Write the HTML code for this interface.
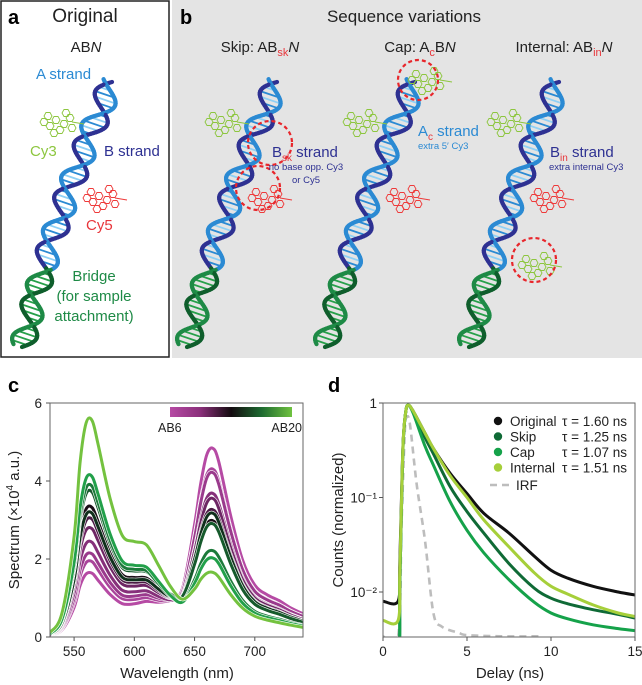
<!DOCTYPE html>
<html><head><meta charset="utf-8"><style>
html,body{margin:0;padding:0;background:#fff;}
svg{display:block;font-family:"Liberation Sans",sans-serif;}
</style></head><body>
<svg id="fig" width="642" height="685" viewBox="0 0 642 685" xmlns="http://www.w3.org/2000/svg">
<defs>
<linearGradient id="cbar" x1="0" x2="1" y1="0" y2="0">
<stop offset="0" stop-color="#b64aa4"/><stop offset="0.25" stop-color="#8a2f7a"/><stop offset="0.5" stop-color="#140b10"/><stop offset="0.75" stop-color="#1d6a30"/><stop offset="1" stop-color="#6fc23f"/>
</linearGradient>
<clipPath id="clipc"><rect x="50" y="403" width="253" height="234"/></clipPath>
<clipPath id="clipd"><rect x="383" y="403" width="252" height="234"/></clipPath>
</defs>
<g id="top">
<rect x="172" y="0" width="470" height="358" fill="#e4e4e4"/>
<rect x="1" y="1" width="168" height="356" fill="#fff" stroke="#222" stroke-width="1.5"/>
<text x="8" y="24" font-size="20" font-weight="bold">a</text>
<text x="85" y="22" font-size="19" text-anchor="middle" fill="#222">Original</text>
<text x="86" y="52" font-size="15" text-anchor="middle" fill="#222">AB<tspan font-style="italic">N</tspan></text>
<text x="180" y="24" font-size="20" font-weight="bold">b</text>
<text x="404" y="22" font-size="17" text-anchor="middle" fill="#222">Sequence variations</text>
<text x="260" y="52" font-size="15" text-anchor="middle" fill="#222">Skip: AB<tspan fill="#e8363b" font-size="11" dy="4">sk</tspan><tspan font-style="italic" dy="-4">N</tspan></text>
<text x="420" y="52" font-size="15" text-anchor="middle" fill="#222">Cap: A<tspan fill="#e8363b" font-size="11" dy="4">c</tspan><tspan dy="-4">B</tspan><tspan font-style="italic">N</tspan></text>
<text x="564" y="52" font-size="15" text-anchor="middle" fill="#222">Internal: AB<tspan fill="#e8363b" font-size="11" dy="4">in</tspan><tspan font-style="italic" dy="-4">N</tspan></text>
<g id="helices"></g>
<text x="36" y="79" font-size="15" fill="#2b8ad3">A strand</text>
<text x="30" y="156" font-size="15" fill="#8dc63f">Cy3</text>
<text x="104" y="156" font-size="15" fill="#2e3192">B strand</text>
<text x="86" y="230" font-size="15" fill="#e8363b">Cy5</text>
<text fill="#1e8a46" font-size="15" text-anchor="middle"><tspan x="94" y="281">Bridge</tspan><tspan x="94" y="301">(for sample</tspan><tspan x="94" y="321">attachment)</tspan></text>
<text x="272" y="157" font-size="15" fill="#2e3192">B<tspan fill="#e8363b" font-size="10" dy="4">sk</tspan><tspan dy="-4"> strand</tspan></text>
<text fill="#2e3192" font-size="9.5" text-anchor="middle"><tspan x="306" y="170">no base opp. Cy3</tspan><tspan x="306" y="183">or Cy5</tspan></text>
<text x="418" y="136" font-size="15" fill="#2b8ad3">A<tspan fill="#e8363b" font-size="10" dy="4">c</tspan><tspan dy="-4"> strand</tspan></text>
<text x="418" y="149" font-size="9.5" fill="#2b8ad3">extra 5′ Cy3</text>
<text x="550" y="157" font-size="15" fill="#2e3192">B<tspan fill="#e8363b" font-size="10" dy="4">in</tspan><tspan dy="-4"> strand</tspan></text>
<text x="549" y="170" font-size="9.5" fill="#2e3192">extra internal Cy3</text>
</g>

<g id="panelc">
<text x="8" y="392" font-size="20" font-weight="bold">c</text>
<g id="ccurves" clip-path="url(#clipc)"></g>
<rect x="50" y="403" width="253" height="234" fill="none" stroke="#666" stroke-width="1"/>
<g id="caxes"></g>
<rect x="170" y="407" width="122" height="10" fill="url(#cbar)"/>
<text x="158" y="432" font-size="12.5" fill="#222">AB6</text>
<text x="302" y="432" font-size="12.5" fill="#222" text-anchor="end">AB20</text>
<text transform="translate(19,520) rotate(-90)" font-size="15" text-anchor="middle" fill="#222">Spectrum (×10<tspan font-size="10" dy="-6">4</tspan><tspan dy="6"> a.u.)</tspan></text>
<text x="177" y="678" font-size="15" text-anchor="middle" fill="#222">Wavelength (nm)</text>
</g>

<g id="paneld">
<text x="328" y="392" font-size="20" font-weight="bold">d</text>
<g id="dcurves" clip-path="url(#clipd)"></g>
<rect x="383" y="403" width="252" height="234" fill="none" stroke="#666" stroke-width="1"/>
<g id="daxes"></g>
<g id="dlegend"></g>
<text transform="translate(343,520) rotate(-90)" font-size="15" text-anchor="middle" fill="#222">Counts (normalized)</text>
<text x="510" y="678" font-size="15" text-anchor="middle" fill="#222">Delay (ns)</text>
</g>
</svg>
<script>
// ---------- panel c data ----------
const wavelengths=[530,540,550,555,560,565,570,580,590,600,610,620,630,640,650,655,660,665,670,680,690,700,710,720,730,740];
const cy3Basis=[0.02,0.11,0.46,0.8,0.98,0.99,0.88,0.63,0.46,0.43,0.41,0.31,0.2,0.12,0.08,0.07,0.06,0.055,0.05,0.04,0.035,0.03,0.025,0.02,0.018,0.015];
const cy5Basis=[0,0,0,0,0,0,0,0.01,0.02,0.03,0.05,0.08,0.13,0.22,0.58,0.8,0.96,1.0,0.93,0.64,0.4,0.27,0.22,0.19,0.15,0.12];
const cy3Peaks=[1.65,1.95,2.15,2.45,2.8,3.05,3.35,3.2,3.75,3.9,4.15,5.6];
const cy5Peaks=[4.75,4.2,4.1,3.55,3.4,3.1,2.8,3.0,2.7,2.0,1.8,1.35];
const sampleColors=["#b64aa4","#a9449a","#9a3a8c","#86307a","#6e2664","#4a1a44","#1a0d16","#10301c","#165a2c","#1c7a3a","#22a04a","#74c23f"];
const xTicksC=[550,600,650,700];
const yTicksC=[0,2,4,6];
// ---------- panel d data ----------
const seriesNames=["Original","Skip","Cap","Internal"];
const lifetimes=["1.60","1.25","1.07","1.51"];
const decayColors=["#111111","#0f6a36","#15a24a","#a6cf3a"];
const decayTimes=[0,0.9,1.0,1.1,1.2,1.35,1.5,1.8,2.5,3,4,5,6,7.5,9,10,11,12.5,14,15];
const originalCounts=[0.008,0.008,0.02,0.1,0.4,0.8,0.95,0.82,0.48,0.33,0.18,0.11,0.068,0.042,0.024,0.017,0.014,0.0115,0.01,0.0093];
const skipCounts=[0.002,0.002,0.012,0.08,0.38,0.8,0.95,0.8,0.43,0.29,0.13,0.071,0.042,0.02,0.011,0.0086,0.0075,0.0065,0.0058,0.0053];
const capCounts=[0.002,0.002,0.012,0.08,0.38,0.8,0.95,0.78,0.35,0.22,0.09,0.045,0.026,0.0135,0.0078,0.006,0.0052,0.0045,0.0041,0.0039];
const internalCounts=[0.005,0.005,0.016,0.09,0.4,0.8,0.95,0.82,0.48,0.33,0.17,0.1,0.058,0.03,0.016,0.0115,0.0095,0.0073,0.006,0.0055];
const irfTimes=[0,0.9,1.1,1.3,1.4,1.6,2,2.5,3,3.5,4.5,5,7,9.5];
const irfCounts=[0.0034,0.0034,0.05,0.5,0.7,0.6,0.14,0.035,0.006,0.0043,0.0037,0.0035,0.0034,0.0034];
const xTicksD=[0,5,10,15];
const yTicksD=[1,0.1,0.01];
const yTickLabelsD=["1","10⁻¹","10⁻²"];

const NS="http://www.w3.org/2000/svg";
function mk(tag,attrs,parent){const e=document.createElementNS(NS,tag);for(const k in attrs)e.setAttribute(k,attrs[k]);parent.appendChild(e);return e;}
function smooth(P){
  let d="M"+P[0][0].toFixed(1)+","+P[0][1].toFixed(1);
  for(let i=0;i<P.length-1;i++){
    const p0=P[Math.max(0,i-1)],p1=P[i],p2=P[i+1],p3=P[Math.min(P.length-1,i+2)];
    const c1=[p1[0]+(p2[0]-p0[0])/6,p1[1]+(p2[1]-p0[1])/6],c2=[p2[0]-(p3[0]-p1[0])/6,p2[1]-(p3[1]-p1[1])/6];
    d+=" C"+c1[0].toFixed(1)+","+c1[1].toFixed(1)+" "+c2[0].toFixed(1)+","+c2[1].toFixed(1)+" "+p2[0].toFixed(1)+","+p2[1].toFixed(1);
  }
  return d;
}

const xC=w=>50+(w-530)*(253/210);
const yC=v=>637-v*(234/6);
const xD=t=>383+t*(252/15);
const yD=v=>403-Math.log10(v)*94.5;

// ---------- panel c ----------
const cg=document.getElementById('ccurves');
cy3Peaks.forEach((a,i)=>{
  const b=cy5Peaks[i];
  const d=smooth(wavelengths.map((w,j)=>[xC(w),yC(a*cy3Basis[j]+b*cy5Basis[j])]));
  const u=mk('path',{d:d,fill:'none',stroke:'#fff','stroke-width':4.2,'stroke-linejoin':'round'},cg);
  
  
  const p=mk('path',{d:d,fill:'none',stroke:sampleColors[i],'stroke-width':3,'stroke-linejoin':'round'},cg);
  
  
});
const ca=document.getElementById('caxes');
xTicksC.forEach(w=>{
  const l=mk('line',{x1:xC(w),x2:xC(w),y1:637,y2:641,stroke:'#555'},ca);
  
  
  const t=mk('text',{x:xC(w),y:656,'font-size':13.5,'text-anchor':'middle',fill:'#222'},ca);
  t.textContent=w;
  
  
});
yTicksC.forEach(v=>{
  const l=mk('line',{x1:46,x2:50,y1:yC(v),y2:yC(v),stroke:'#555'},ca);
  
  
  const t=mk('text',{x:42,y:yC(v)+5,'font-size':13.5,'text-anchor':'end',fill:'#222'},ca);
  t.textContent=v;
  
  
});

// ---------- panel d ----------
const dg=document.getElementById('dcurves');
const irf=mk('path',{d:smooth(irfTimes.map((t,i)=>[xD(t),yD(irfCounts[i])])),fill:'none',stroke:'#bdbdbd','stroke-width':2.6,'stroke-dasharray':'7,5'},dg);


[originalCounts,skipCounts,capCounts,internalCounts].forEach((arr,k)=>{
  const d=smooth(decayTimes.map((t,i)=>[xD(t),yD(arr[i])]));
  const p=mk('path',{d:d,fill:'none',stroke:decayColors[k],'stroke-width':3,'stroke-linejoin':'round'},dg);
  
  
});
const da=document.getElementById('daxes');
xTicksD.forEach(t=>{
  const l=mk('line',{x1:xD(t),x2:xD(t),y1:637,y2:641,stroke:'#555'},da);
  
  
  const tx=mk('text',{x:xD(t),y:656,'font-size':13.5,'text-anchor':'middle',fill:'#222'},da);
  tx.textContent=t;
  
  
});
yTicksD.forEach((v,i)=>{
  const l=mk('line',{x1:379,x2:383,y1:yD(v),y2:yD(v),stroke:'#555'},da);
  
  
  const tx=mk('text',{x:377,y:yD(v)+5,'font-size':13.5,'text-anchor':'end',fill:'#222'},da);
  tx.textContent=yTickLabelsD[i];
  
  
});
const dl=document.getElementById('dlegend');
seriesNames.forEach((n,k)=>{
  const y=421+k*15.5;
  const c=mk('circle',{cx:498,cy:y,r:4.2,fill:decayColors[k]},dl);
  
  
  const t=mk('text',{x:510,y:y+5,'font-size':13.5,fill:'#222'},dl);
  t.textContent=n;
  
  
  const t2=mk('text',{x:562,y:y+5,'font-size':13.5,fill:'#222'},dl);
  t2.textContent="τ = "+lifetimes[k]+" ns";
  
  
});
const ld=mk('line',{x1:490,x2:510,y1:485,y2:485,stroke:'#bdbdbd','stroke-width':2.5,'stroke-dasharray':'7,5'},dl);


const lt=mk('text',{x:516,y:490,'font-size':13.5,fill:'#222'},dl);
lt.textContent="IRF";



// ---------- helices ----------
const hg=document.getElementById('helices');
const helixOffsets=[0,165,303,447];
function helix(off,idx){
  const g=mk('g',{},hg);
  
  
  const x0=112+off,y0=82,x1=22+off,y1=347;
  const L=Math.hypot(x1-x0,y1-y0),tx=(x1-x0)/L,ty=(y1-y0)/L,nx=-ty,ny=tx;
  const N=160,A=12,turns=5;
  const s1=[],s2=[];
  for(let i=0;i<=N;i++){
    const s=i/N,bend=Math.sin(s*Math.PI)*6;
    const cx=x0+(x1-x0)*s+nx*bend,cy=y0+(y1-y0)*s+ny*bend;
    const ph=2*Math.PI*turns*s;
    s1.push([cx+nx*A*Math.sin(ph),cy+ny*A*Math.sin(ph),s]);
    s2.push([cx+nx*A*Math.sin(ph+2.3),cy+ny*A*Math.sin(ph+2.3),s]);
  }
  for(let i=2;i<N;i+=3){
    const s=i/N;
    const col=s>0.7?'#27a04a':(i%2?'#8fd0f5':'#2b8ad3');
    const r=mk('line',{x1:s1[i][0],y1:s1[i][1],x2:s2[i][0],y2:s2[i][1],stroke:col,'stroke-width':1.8},g);
    
    
  }
  for(let i=0;i<N;i++){
    const s=s1[i][2];
    const a=mk('line',{x1:s1[i][0],y1:s1[i][1],x2:s1[i+1][0],y2:s1[i+1][1],stroke:s>0.7?'#0f5e2c':'#2e3192','stroke-width':4.2,'stroke-linecap':'round'},g);
    
    
    const b=mk('line',{x1:s2[i][0],y1:s2[i][1],x2:s2[i+1][0],y2:s2[i+1][1],stroke:s>0.7?'#1e8a46':'#2b8ad3','stroke-width':4.2,'stroke-linecap':'round'},g);
    
    
  }
}
function dye(cx,cy,col,name){
  const g=mk('g',{},hg);
  
  
  const centers=[[-14,-6],[-6,-2],[-12,4],[2,2],[8,-4],[-2,8],[10,6],[-18,0],[4,-9],[-8,11]];
  centers.forEach(c=>{
    const pts=[];for(let k=0;k<6;k++){const a=Math.PI/3*k;pts.push((cx+c[0]+4*Math.cos(a)).toFixed(1)+","+(cy+c[1]+4*Math.sin(a)).toFixed(1));}
    mk('polygon',{points:pts.join(" "),fill:'none',stroke:col,'stroke-width':0.9},g);
  });
  mk('line',{x1:cx+10,y1:cy,x2:cx+22,y2:cy+2,stroke:col,'stroke-width':1},g);
}
function ring(cx,cy,r,name){
  const c=mk('circle',{cx:cx,cy:cy,r:r,fill:'none',stroke:'#e8262b','stroke-width':2.2,'stroke-dasharray':'4,3'},hg);
  
  
}
helixOffsets.forEach((o,i)=>{
  helix(o,i);
  dye(62+o,122,'#8dc63f','cy3-dye-'+i);
  dye(105+o,198,'#ee3a3a','cy5-dye-'+i);
});
dye(430,80,'#8dc63f','cy3-cap-dye');
dye(540,265,'#8dc63f','cy3-internal-dye');
ring(270,143,22,'skip-highlight-ring-top');
ring(258,188,22,'skip-highlight-ring-bottom');
ring(418,80,20,'cap-highlight-ring');
ring(534,260,22,'internal-highlight-ring');
</script>
</body></html>
